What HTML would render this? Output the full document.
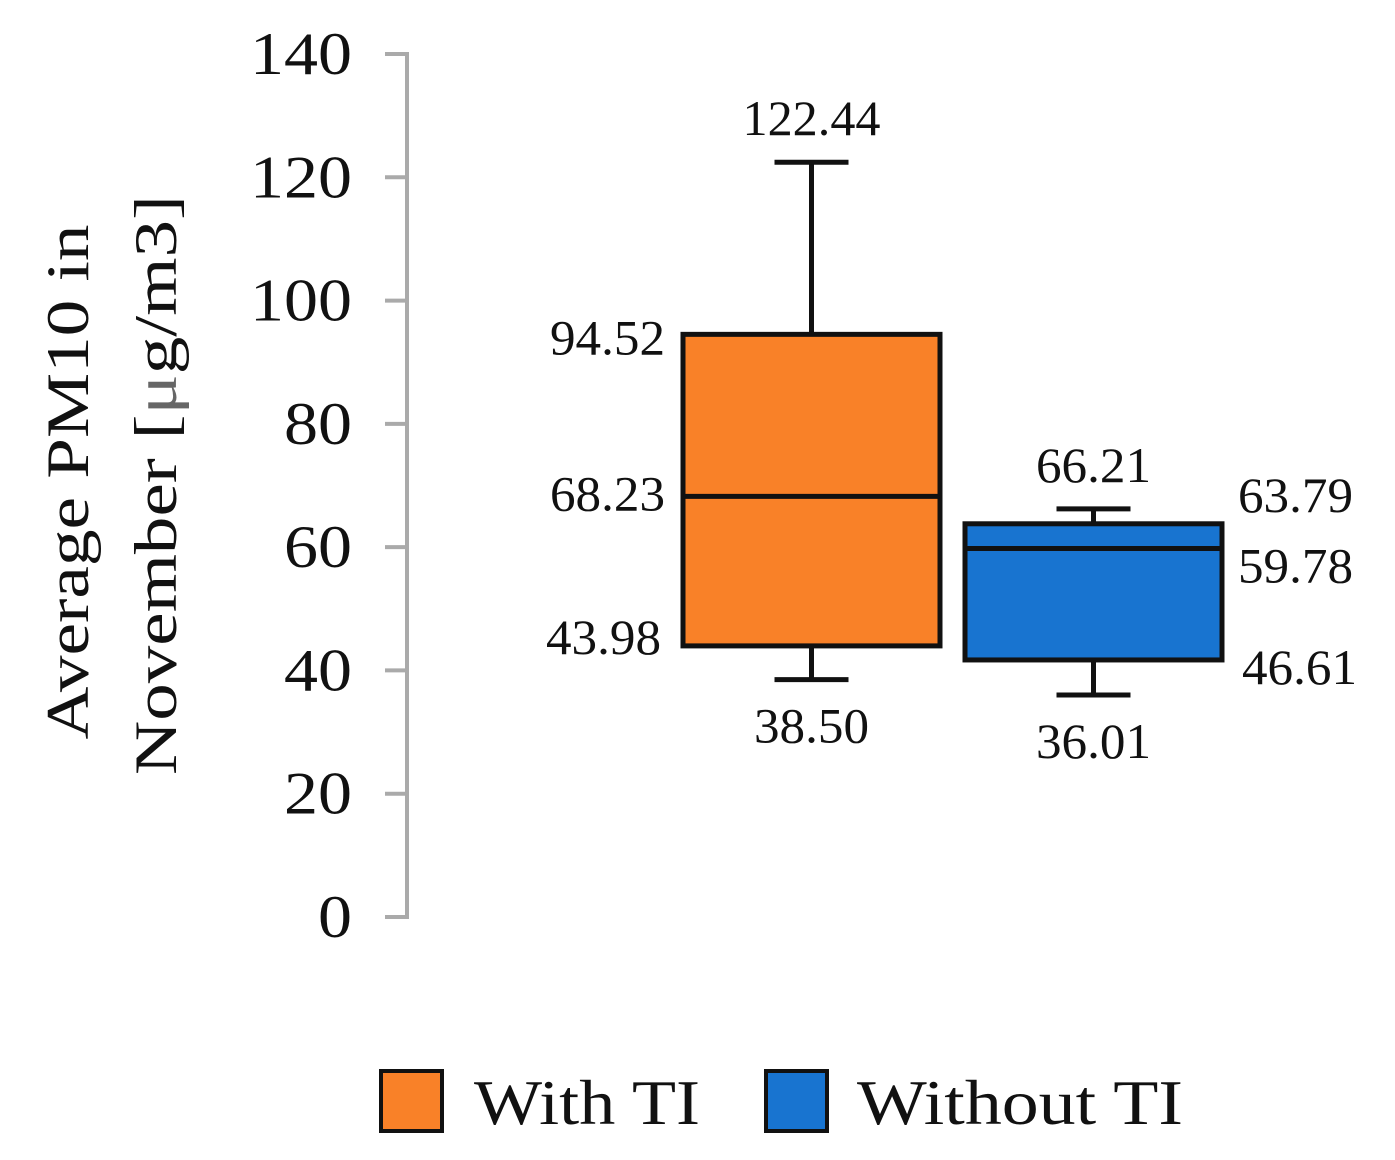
<!DOCTYPE html>
<html><head><meta charset="utf-8">
<style>
html,body{margin:0;padding:0;background:#fff;}
svg{display:block;font-family:"Liberation Serif",serif;}
</style></head>
<body>
<svg id="chart" width="1395" height="1160" viewBox="0 0 1395 1160" xmlns="http://www.w3.org/2000/svg">
  <g id="yaxis"></g>
  <g id="title">
    <text x="88" y="482" font-size="60" text-anchor="middle" textLength="515" lengthAdjust="spacingAndGlyphs" transform="rotate(-90 88 482)" fill="#111">Average PM10 in</text>
    <text x="176" y="485" font-size="60" text-anchor="middle" textLength="580" lengthAdjust="spacingAndGlyphs" transform="rotate(-90 176 485)" fill="#111">November [<tspan fill="#666">μ</tspan>g/m3]</text>
  </g>
  <g id="boxes"></g>
  <g id="legend">
    <rect x="381" y="1071" width="61" height="60" fill="#F98128" stroke="#111" stroke-width="4"/>
    <text x="474" y="1124" font-size="64" textLength="226" lengthAdjust="spacingAndGlyphs" fill="#111">With TI</text>
    <rect x="766" y="1071" width="61" height="60" fill="#1874D0" stroke="#111" stroke-width="4"/>
    <text x="857" y="1124" font-size="64" textLength="326" lengthAdjust="spacingAndGlyphs" fill="#111">Without TI</text>
  </g>
</svg>
<script>
const categories = ["With TI", "Without TI"];
const whiskerMin = [38.50, 36.01];
const q1 = [43.98, 41.7];
const median = [68.23, 59.78];
const q3 = [94.52, 63.79];
const whiskerMax = [122.44, 66.21];
const minLabels = ["38.50", "36.01"];
const q1Labels = ["43.98", "46.61"];
const medianLabels = ["68.23", "59.78"];
const q3Labels = ["94.52", "63.79"];
const maxLabels = ["122.44", "66.21"];
const yTicks = [0, 20, 40, 60, 80, 100, 120, 140];

const NS = "http://www.w3.org/2000/svg";
const y0 = 917, y1 = 54, vmax = 140;
function yScale(v){ return y0 - (v / vmax) * (y0 - y1); }
const boxLeft = [683, 965], boxWidth = 257;
function xCenter(i){ return boxLeft[i] + boxWidth/2; }
const colors = ["#F98128", "#1874D0"];

function mk(tag, attrs, parent){
  const e = document.createElementNS(NS, tag);
  for (const k in attrs) e.setAttribute(k, attrs[k]);
  parent.appendChild(e); return e;
}
const yax = document.getElementById("yaxis");
const al = mk("line", {x1:407, x2:407, y1:yScale(vmax), y2:yScale(0), stroke:"#aaa", "stroke-width":4}, yax);


yTicks.forEach(t => {
  const y = yScale(t);
  const tk = mk("line", {x1:385, x2:409, y1:y, y2:y, stroke:"#aaa", "stroke-width":4}, yax);
  
  
  const s = String(t);
  const tl = mk("text", {x:352, y:y+20, "font-size":60, "text-anchor":"end", textLength:s.length*34, lengthAdjust:"spacingAndGlyphs", fill:"#111"}, yax);
  
  
  tl.textContent = s;
});

const bx = document.getElementById("boxes");
categories.forEach((c, i) => {
  const g = mk("g", {}, bx);
  
  
  const cx = xCenter(i), L = boxLeft[i], R = L + boxWidth;
  const st = {stroke:"#111", "stroke-width":5};
  const w1 = mk("line", Object.assign({x1:cx, x2:cx, y1:yScale(whiskerMax[i]), y2:yScale(q3[i])}, st), g);
  
  
  const c1 = mk("line", Object.assign({x1:cx-37, x2:cx+37, y1:yScale(whiskerMax[i]), y2:yScale(whiskerMax[i])}, st), g);
  
  
  const w2 = mk("line", Object.assign({x1:cx, x2:cx, y1:yScale(q1[i]), y2:yScale(whiskerMin[i])}, st), g);
  
  
  const c2 = mk("line", Object.assign({x1:cx-37, x2:cx+37, y1:yScale(whiskerMin[i]), y2:yScale(whiskerMin[i])}, st), g);
  
  
  const r = mk("rect", Object.assign({x:L, y:yScale(q3[i]), width:boxWidth, height:yScale(q1[i]) - yScale(q3[i]), fill:colors[i]}, st), g);
  
  
  const m = mk("line", Object.assign({x1:L, x2:R, y1:yScale(median[i]), y2:yScale(median[i])}, st), g);
  
  

  function lab(txt, x, y, anchor, name){
    const t = mk("text", {x:x, y:y, "font-size":50, "text-anchor":anchor, textLength:txt.length*23, lengthAdjust:"spacingAndGlyphs", fill:"#111"}, g);
    
    
    t.textContent = txt;
  }
  lab(maxLabels[i], cx, yScale(whiskerMax[i]) - 27, "middle", "max-label");
  lab(minLabels[i], cx, yScale(whiskerMin[i]) + 63, "middle", "min-label");
  if (i === 0) {
    lab(q3Labels[i], L - 18, yScale(q3[i]) + 20, "end", "q3-label");
    lab(medianLabels[i], L - 18, yScale(median[i]) + 14, "end", "median-label");
    lab(q1Labels[i], L - 22, yScale(q1[i]) + 8, "end", "q1-label");
  } else {
    lab(q3Labels[i], R + 16, yScale(q3[i]) - 12, "start", "q3-label");
    lab(medianLabels[i], R + 16, yScale(median[i]) + 34, "start", "median-label");
    lab(q1Labels[i], R + 20, yScale(q1[i]) + 24, "start", "q1-label");
  }
});
</script>
</body></html>
